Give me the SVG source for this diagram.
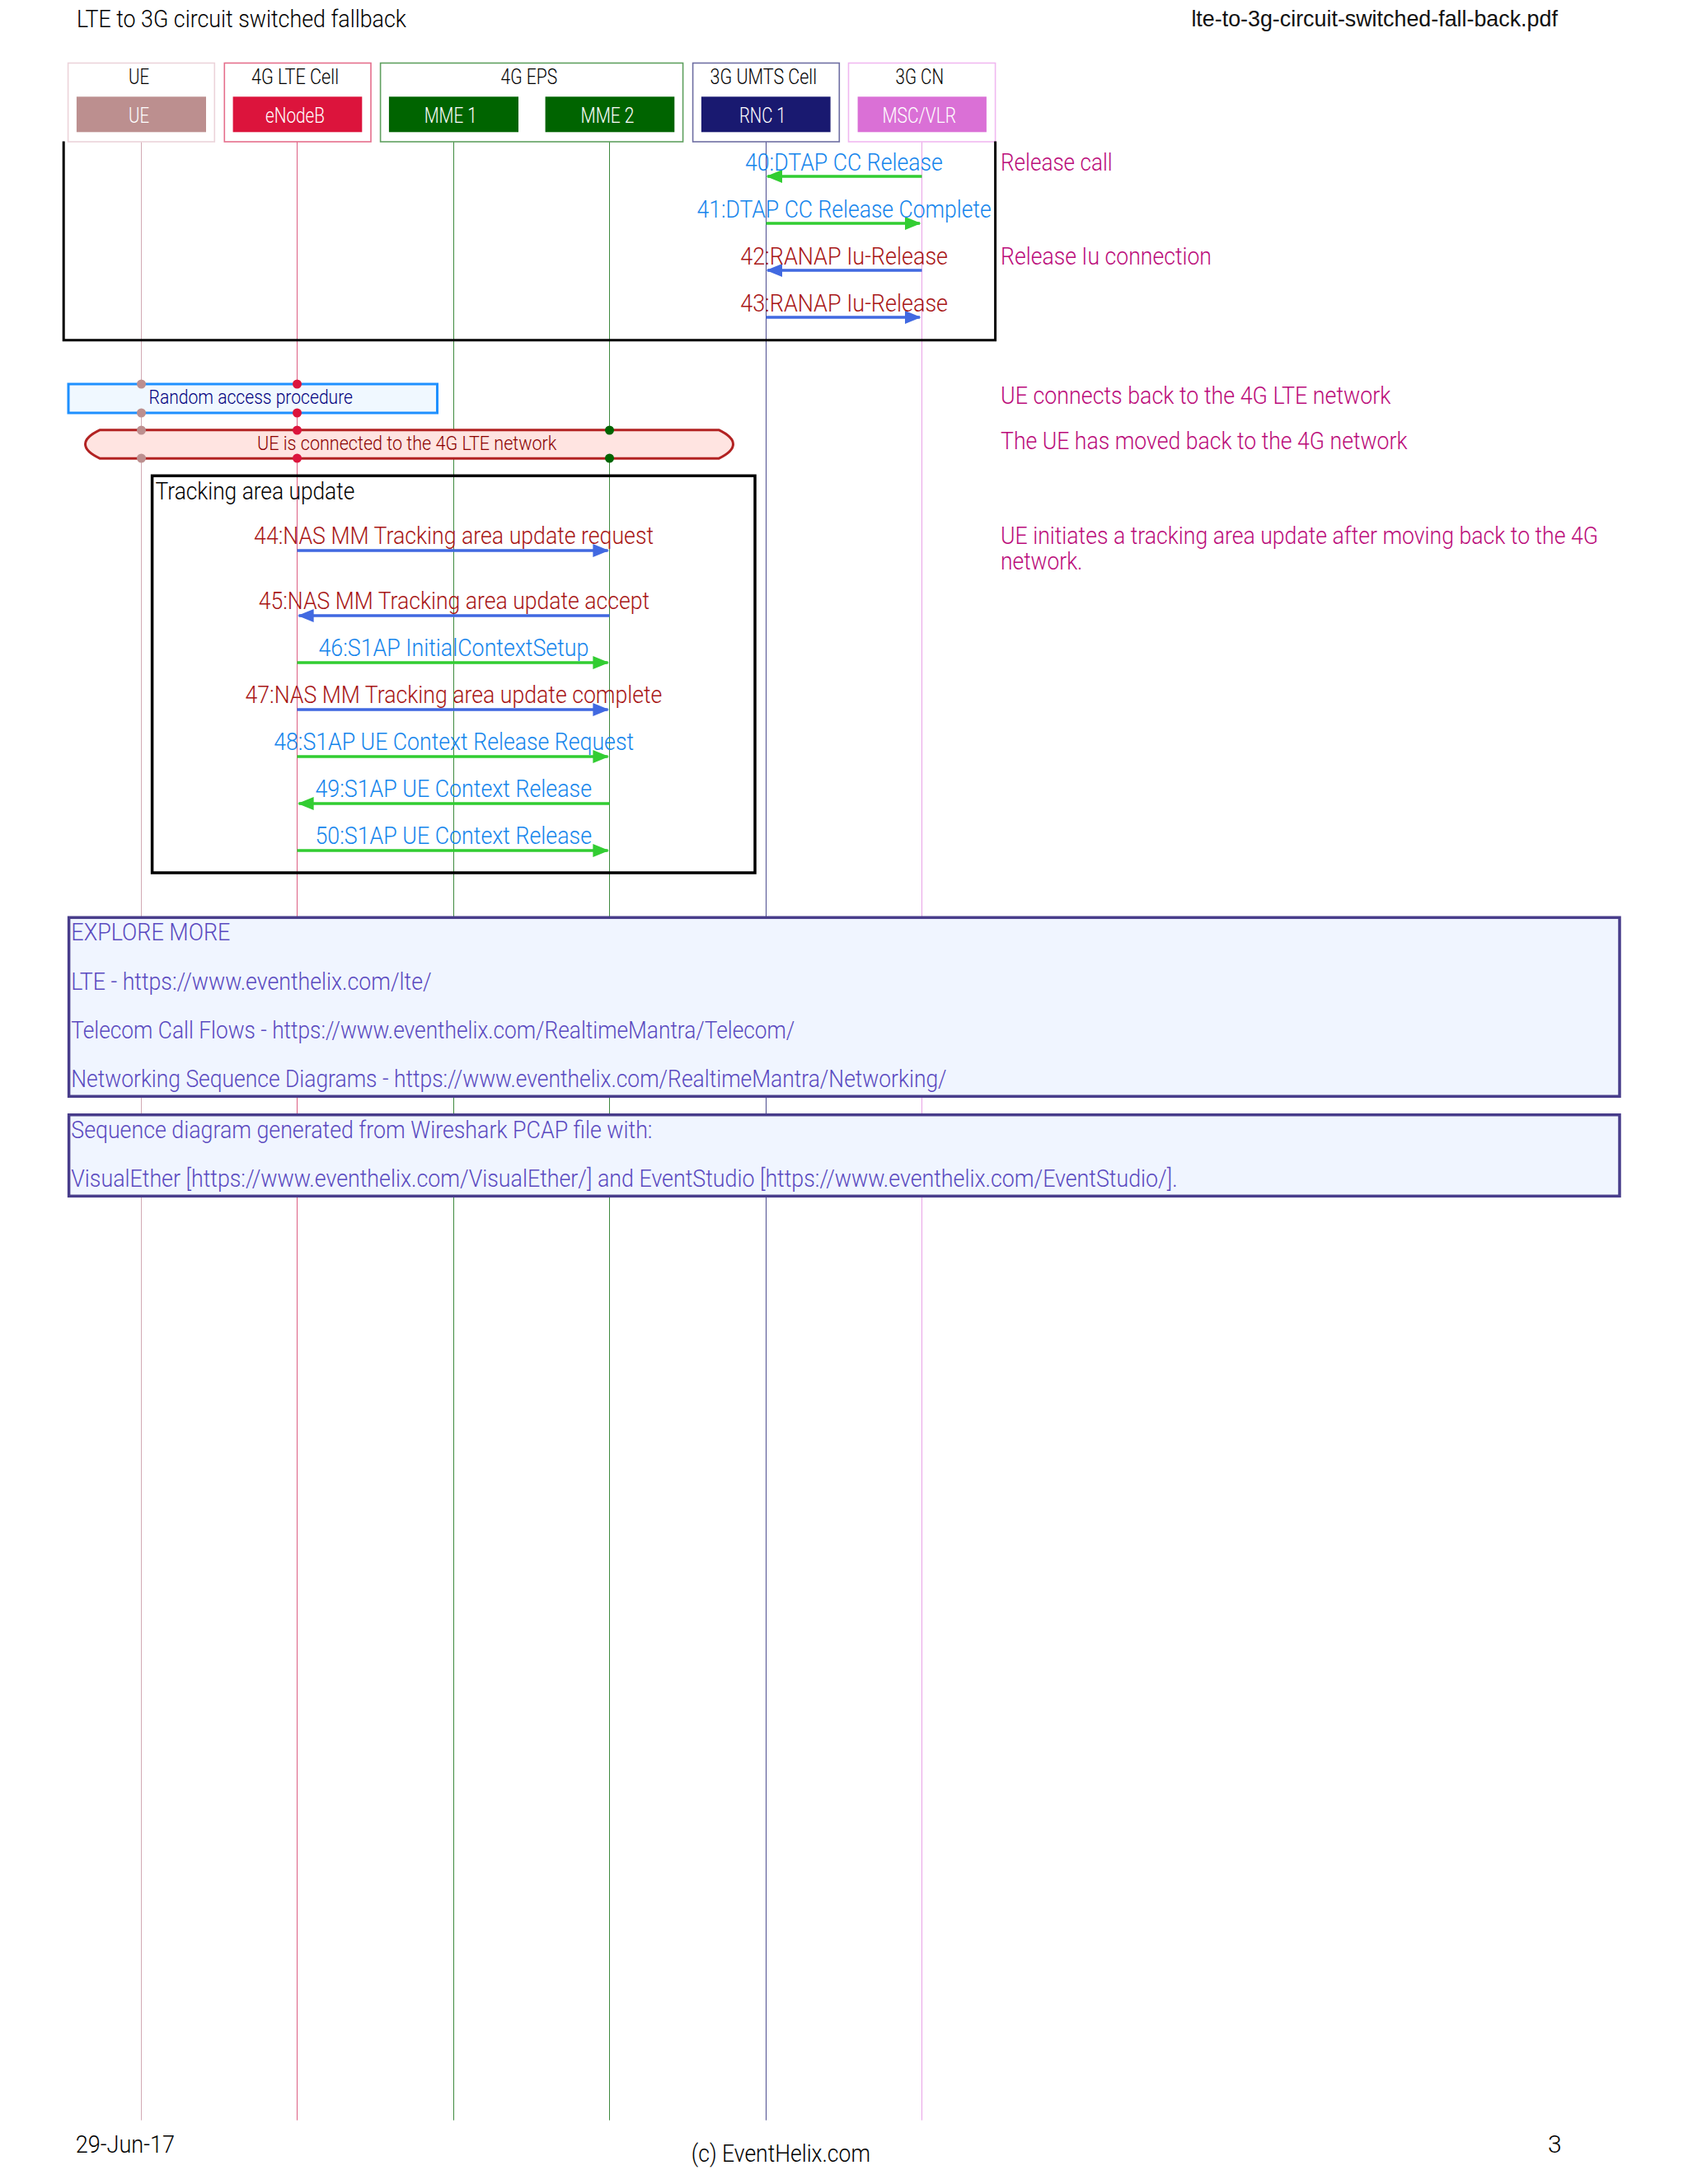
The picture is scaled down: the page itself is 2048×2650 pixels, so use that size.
<svg xmlns="http://www.w3.org/2000/svg" width="2048" height="2650" viewBox="0 0 2048 2650">
<style>
text{font-family:Roboto,"Liberation Sans",Arial,sans-serif;font-weight:300;font-size:30px;fill:#000;white-space:pre}
.arial{font-family:"Liberation Sans",Arial,sans-serif;font-weight:400;font-size:28px;fill:#111}
.t24{font-size:25px}
.t22{font-size:23px}
.in{fill:#fff;font-size:25px}
.blue{fill:#1585ec}
.red{fill:#a81616}
.note{fill:#bb0c7a}
.more{fill:#5a4abf}
.ll{stroke-width:1;fill:none}
.gr{stroke:#32cd32;stroke-width:3.4;fill:none;marker-end:url(#ag)}
.bl{stroke:#4169e1;stroke-width:3.4;fill:none;marker-end:url(#ab)}
.panel{fill:#f0f5ff;stroke:#483d8b;stroke-width:3.5}
.frame{fill:none;stroke:#000;stroke-linecap:square}
.outer{fill:#fff;stroke-width:1.6}
</style>
<defs>
<marker id="ag" markerUnits="userSpaceOnUse" markerWidth="20" markerHeight="16" viewBox="0 0 18.5 15" refX="17" refY="7.5" orient="auto"><path d="M0,0L18.5,7.5L0,15Z" fill="#32cd32"/></marker>
<marker id="ab" markerUnits="userSpaceOnUse" markerWidth="20" markerHeight="16" viewBox="0 0 18.5 15" refX="17" refY="7.5" orient="auto"><path d="M0,0L18.5,7.5L0,15Z" fill="#4169e1"/></marker>
</defs>

<g id="lifelines">
<line class="ll" x1="171.5" y1="160" x2="171.5" y2="2572.7" stroke="#d2a9b4"/>
<line class="ll" x1="360.5" y1="160" x2="360.5" y2="2572.7" stroke="#dc5f83"/>
<line class="ll" x1="550.5" y1="160" x2="550.5" y2="2572.7" stroke="#3f8a3f"/>
<line class="ll" x1="739.5" y1="160" x2="739.5" y2="2572.7" stroke="#3f8a3f"/>
<line class="ll" x1="929.5" y1="160" x2="929.5" y2="2572.7" stroke="#4d4d8f"/>
<line class="ll" x1="1118.5" y1="160" x2="1118.5" y2="2572.7" stroke="#e9a3e6"/>
</g>

<g id="header">
<text x="92.9" y="32.5" textLength="400" lengthAdjust="spacingAndGlyphs">LTE to 3G circuit switched fallback</text>
<text class="arial" x="1445.4" y="32" textLength="444.5" lengthAdjust="spacingAndGlyphs">lte-to-3g-circuit-switched-fall-back.pdf</text>
</g>

<g id="group-ue">
<rect class="outer" x="82.6" y="76.5" width="177.7" height="95.5" stroke="#ecd4da"/>
<text class="t24" x="156" y="101.7" textLength="25" lengthAdjust="spacingAndGlyphs">UE</text>
</g>
<g id="node-ue">
<rect x="92.9" y="117.3" width="157.1" height="43" fill="#bc8f8f"/>
<text class="in" x="156" y="148.5" textLength="25" lengthAdjust="spacingAndGlyphs">UE</text>
</g>
<g id="group-lte">
<rect class="outer" x="272.3" y="76.5" width="177.7" height="95.5" stroke="#e56f8c"/>
<text class="t24" x="305" y="101.7" textLength="106" lengthAdjust="spacingAndGlyphs">4G LTE Cell</text>
</g>
<g id="node-enodeb">
<rect x="282.6" y="117.3" width="156.7" height="43" fill="#dc143c"/>
<text class="in" x="322" y="148.5" textLength="72" lengthAdjust="spacingAndGlyphs">eNodeB</text>
</g>
<g id="group-eps">
<rect class="outer" x="461.6" y="76.5" width="367" height="95.5" stroke="#5fa05f"/>
<text class="t24" x="607.6" y="101.7" textLength="68.5" lengthAdjust="spacingAndGlyphs">4G EPS</text>
</g>
<g id="node-mme1">
<rect x="471.9" y="117.3" width="157.1" height="43" fill="#006400"/>
<text class="in" x="514.7" y="148.5" textLength="64" lengthAdjust="spacingAndGlyphs">MME 1</text>
</g>
<g id="node-mme2">
<rect x="661.6" y="117.3" width="156.7" height="43" fill="#006400"/>
<text class="in" x="704.5" y="148.5" textLength="65" lengthAdjust="spacingAndGlyphs">MME 2</text>
</g>
<g id="group-umts">
<rect class="outer" x="840.6" y="76.5" width="177.7" height="95.5" stroke="#6f6fa3"/>
<text class="t24" x="861.6" y="101.7" textLength="129.4" lengthAdjust="spacingAndGlyphs">3G UMTS Cell</text>
</g>
<g id="node-rnc">
<rect x="850.9" y="117.3" width="156.7" height="43" fill="#191970"/>
<text class="in" x="897" y="148.5" textLength="56.6" lengthAdjust="spacingAndGlyphs">RNC 1</text>
</g>
<g id="group-cn">
<rect class="outer" x="1029.5" y="76.5" width="178.1" height="95.5" stroke="#f0b8f0"/>
<text class="t24" x="1086.6" y="101.7" textLength="58.4" lengthAdjust="spacingAndGlyphs">3G CN</text>
</g>
<g id="node-msc">
<rect x="1040.6" y="117.3" width="156.3" height="43" fill="#da70d6"/>
<text class="in" x="1070.5" y="148.5" textLength="89.5" lengthAdjust="spacingAndGlyphs">MSC/VLR</text>
</g>

<g id="frames">
<path class="frame" stroke-width="3" d="M77.2,173V412.7H1207.6V173"/>
<rect class="frame" stroke-width="3.5" x="184.6" y="577.3" width="731.4" height="481.7"/>
<text x="188.6" y="605.5" textLength="241.7" lengthAdjust="spacingAndGlyphs">Tracking area update</text>
</g>

<g id="connectors">
<line class="gr" x1="1118.5" y1="214" x2="931" y2="214"/>
<line class="gr" x1="929.5" y1="271" x2="1116" y2="271"/>
<line class="bl" x1="1118.5" y1="328" x2="931" y2="328"/>
<line class="bl" x1="929.5" y1="385" x2="1116" y2="385"/>
<line class="bl" x1="360.5" y1="668" x2="737.5" y2="668"/>
<line class="bl" x1="739.5" y1="747" x2="362.5" y2="747"/>
<line class="gr" x1="360.5" y1="804" x2="737.5" y2="804"/>
<line class="bl" x1="360.5" y1="861" x2="737.5" y2="861"/>
<line class="gr" x1="360.5" y1="918" x2="737.5" y2="918"/>
<line class="gr" x1="739.5" y1="975" x2="362.5" y2="975"/>
<line class="gr" x1="360.5" y1="1032" x2="737.5" y2="1032"/>
</g>

<g id="message-labels">
<text class="blue" x="904" y="207" textLength="239.8" lengthAdjust="spacingAndGlyphs">40:DTAP CC Release</text>
<text class="blue" x="845.5" y="264" textLength="357.2" lengthAdjust="spacingAndGlyphs">41:DTAP CC Release Complete</text>
<text class="red" x="898.2" y="321" textLength="251.8" lengthAdjust="spacingAndGlyphs">42:RANAP Iu-Release</text>
<text class="red" x="898.2" y="378" textLength="251.8" lengthAdjust="spacingAndGlyphs">43:RANAP Iu-Release</text>
<text class="red" x="308.1" y="660.4" textLength="484.9" lengthAdjust="spacingAndGlyphs">44:NAS MM Tracking area update request</text>
<text class="red" x="313.8" y="739.4" textLength="474.2" lengthAdjust="spacingAndGlyphs">45:NAS MM Tracking area update accept</text>
<text class="blue" x="386.5" y="796.4" textLength="327.9" lengthAdjust="spacingAndGlyphs">46:S1AP InitialContextSetup</text>
<text class="red" x="297.5" y="853.4" textLength="505.9" lengthAdjust="spacingAndGlyphs">47:NAS MM Tracking area update complete</text>
<text class="blue" x="332.2" y="910.4" textLength="436.8" lengthAdjust="spacingAndGlyphs">48:S1AP UE Context Release Request</text>
<text class="blue" x="382.5" y="967.4" textLength="335.5" lengthAdjust="spacingAndGlyphs">49:S1AP UE Context Release</text>
<text class="blue" x="382.5" y="1024.4" textLength="335.5" lengthAdjust="spacingAndGlyphs">50:S1AP UE Context Release</text>
</g>

<g id="random-access">
<rect x="83" y="466" width="447.5" height="35" fill="#f0f8ff" stroke="#1e90ff" stroke-width="3"/>
<circle cx="171.5" cy="466" r="5.5" fill="#bc8f8f"/>
<circle cx="360.5" cy="466" r="5.5" fill="#dc143c"/>
<circle cx="171.5" cy="501" r="5.5" fill="#bc8f8f"/>
<circle cx="360.5" cy="501" r="5.5" fill="#dc143c"/>
<text class="t22" style="fill:#000080" x="180.5" y="490.3" textLength="247.5" lengthAdjust="spacingAndGlyphs">Random access procedure</text>
</g>

<g id="ue-connected">
<path d="M121.4,521.7H872Q889.5,530 889.5,539Q889.5,548 872,556.3H121.4Q103.5,548 103.5,539Q103.5,530 121.4,521.7Z" fill="#ffe4e1" stroke="#b22222" stroke-width="3"/>
<circle cx="171.5" cy="522" r="5.5" fill="#bc8f8f"/>
<circle cx="360.5" cy="522" r="5.5" fill="#dc143c"/>
<circle cx="739.5" cy="522" r="5.5" fill="#006400"/>
<circle cx="171.5" cy="556" r="5.5" fill="#bc8f8f"/>
<circle cx="360.5" cy="556" r="5.5" fill="#dc143c"/>
<circle cx="739.5" cy="556" r="5.5" fill="#006400"/>
<text class="t22" style="fill:#8b0000" x="312.1" y="545.6" textLength="363.3" lengthAdjust="spacingAndGlyphs">UE is connected to the 4G LTE network</text>
</g>

<g id="notes">
<text class="note" x="1214" y="207" textLength="135.6" lengthAdjust="spacingAndGlyphs">Release call</text>
<text class="note" x="1214" y="321" textLength="256" lengthAdjust="spacingAndGlyphs">Release Iu connection</text>
<text class="note" x="1214" y="489.6" textLength="473.5" lengthAdjust="spacingAndGlyphs">UE connects back to the 4G LTE network</text>
<text class="note" x="1214" y="545" textLength="493.5" lengthAdjust="spacingAndGlyphs">The UE has moved back to the 4G network</text>
<text class="note" x="1214" y="660.4" textLength="725" lengthAdjust="spacingAndGlyphs">UE initiates a tracking area update after moving back to the 4G</text>
<text class="note" x="1214" y="690.7" textLength="99.4" lengthAdjust="spacingAndGlyphs">network.</text>
</g>

<g id="explore-more">
<rect class="panel" x="83.6" y="1113.3" width="1881.4" height="217"/>
<text class="more" x="86.3" y="1141.3" textLength="193.1" lengthAdjust="spacingAndGlyphs">EXPLORE MORE</text>
<text class="more" x="86.3" y="1200.6" textLength="437.3" lengthAdjust="spacingAndGlyphs">LTE - https://www.eventhelix.com/lte/</text>
<text class="more" x="86.3" y="1260" textLength="878" lengthAdjust="spacingAndGlyphs">Telecom Call Flows - https://www.eventhelix.com/RealtimeMantra/Telecom/</text>
<text class="more" x="86.3" y="1319" textLength="1062.3" lengthAdjust="spacingAndGlyphs">Networking Sequence Diagrams - https://www.eventhelix.com/RealtimeMantra/Networking/</text>
</g>

<g id="generated-by">
<rect class="panel" x="83.6" y="1352.7" width="1881.4" height="98.6"/>
<text class="more" x="86.3" y="1381" textLength="705.2" lengthAdjust="spacingAndGlyphs">Sequence diagram generated from Wireshark PCAP file with:</text>
<text class="more" x="86.3" y="1440" textLength="1342.3" lengthAdjust="spacingAndGlyphs">VisualEther [https://www.eventhelix.com/VisualEther/] and EventStudio [https://www.eventhelix.com/EventStudio/].</text>
</g>

<g id="footer">
<text x="91.8" y="2612" textLength="120.2" lengthAdjust="spacingAndGlyphs">29-Jun-17</text>
<text x="838.8" y="2623" textLength="217.1" lengthAdjust="spacingAndGlyphs">(c) EventHelix.com</text>
<text x="1878" y="2611.7">3</text>
</g>
</svg>
